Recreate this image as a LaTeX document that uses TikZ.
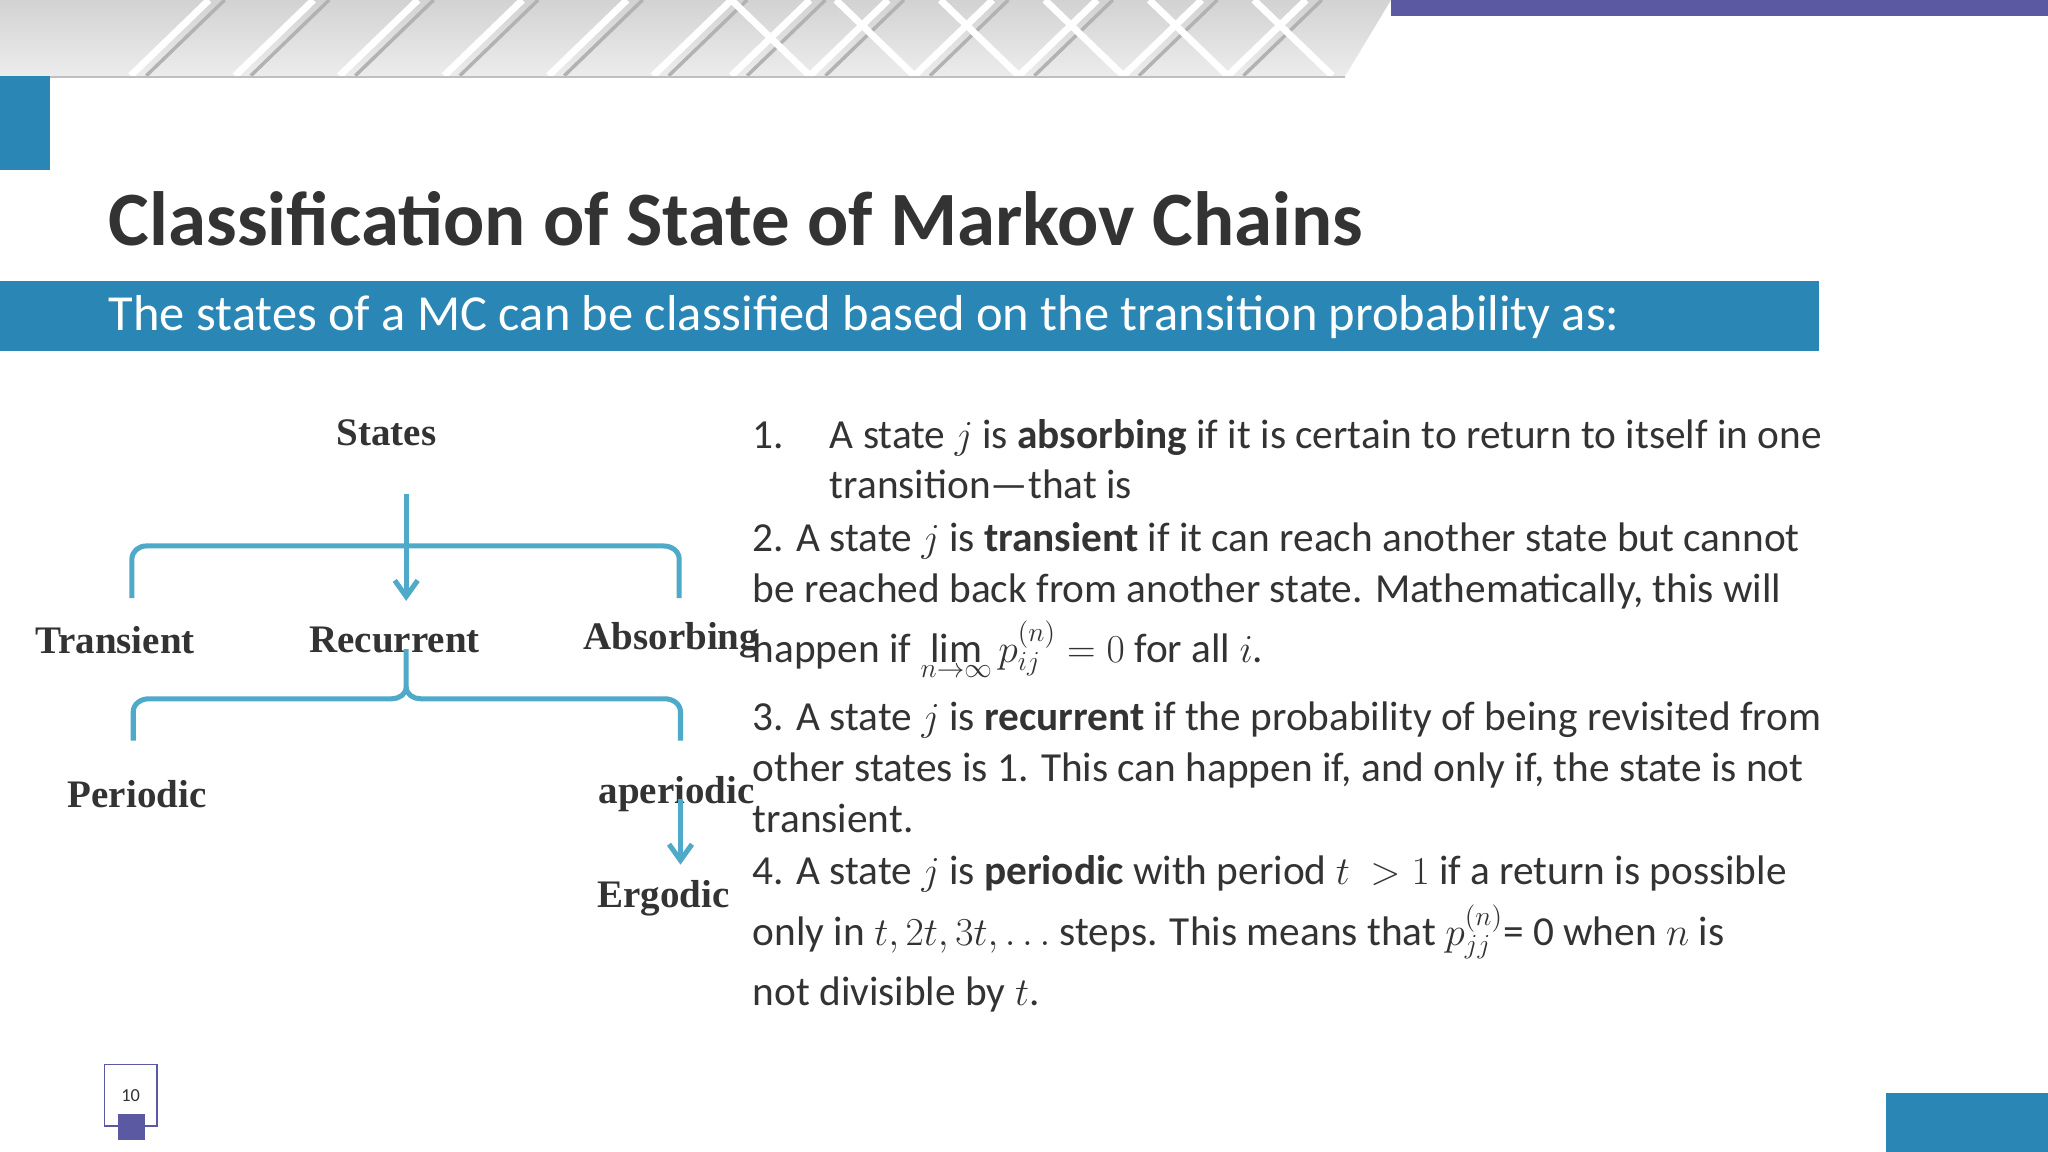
\documentclass[tikz,border=0pt]{standalone}
\usepackage{fontspec}
\setmainfont{Carlito}
\newfontfamily\tms{Liberation Serif}
\usetikzlibrary{arrows.meta}
\definecolor{mblue}{HTML}{2A86B4}
\definecolor{mpurp}{HTML}{5B59A2}
\definecolor{ltb}{HTML}{4FA9C8}
\definecolor{tgrey}{HTML}{333333}
\tikzset{
 lbl/.style={font=\tms\bfseries\fontsize{17pt}{20pt}\selectfont, text=tgrey, inner sep=0},
 ln/.style={anchor=base west, inner sep=0, font=\fontsize{18pt}{22pt}\selectfont, text=tgrey},
 br/.style={draw=ltb, line width=2.2pt},
 arr/.style={br, -{Straight Barb[length=7pt,width=10pt]}}
}
\begin{document}
\begin{tikzpicture}[x=0.02cm,y=-0.02cm]
\useasboundingbox (0,0) rectangle (1568,882);
% banner
\shade[top color=gray!35, bottom color=gray!15] (0,0) -- (1065,0) -- (1030,58) -- (0,58) -- cycle;
\begin{scope}
\clip (0,0) -- (1065,0) -- (1030,58) -- (0,58) -- cycle;
\foreach \x in {100,180,260,340,420,500,560,620,700,780,860,940}{
 \draw[white, line width=3pt] (\x,58) -- (\x+60,0);
 \draw[gray!60, line width=1.5pt] (\x+12,58) -- (\x+72,0);}
\foreach \x in {560,640,720,800,880,960}{
 \draw[white, line width=3pt] (\x,0) -- (\x+60,58);}
\end{scope}
\draw[gray!50, line width=1pt] (0,59) -- (1030,59);
\fill[mpurp] (1065,0) rectangle (1568,12);
\fill[mblue] (0,58) rectangle (38,130);
% title
\node[anchor=base west, inner sep=0, font=\bfseries\fontsize{33.5pt}{38pt}\selectfont, text=tgrey] (title) at (83,188) {Classification of State of Markov Chains};
\fill[mblue] (0,215) rectangle (1393,269);
\node[anchor=base west, inner sep=0, font=\fontsize{22pt}{26pt}\selectfont, text=white] (sub) at (83,253) {The states of a MC can be classified based on the transition probability as:};
% diagram
\node[lbl] (st) at (296,331) {States};
\node[lbl] (tr) at (88,490) {Transient};
\node[lbl] (re) at (302,490) {Recurrent};
\node[lbl] (ab) at (514,490) {Absorbing};
\node[lbl] (pe) at (105,608) {Periodic};
\node[lbl] (ap) at (518,608) {aperiodic};
\node[lbl] (er) at (508,688) {Ergodic};
\coordinate (a1) at (311,378); \coordinate (a2) at (311,460);
\draw[arr] (a1) -- (a2);
\draw[br] (101,458) -- (101,428) to[out=90,in=180] (112,418) -- (508,418) to[out=0,in=90] (520,428) -- (520,458);
\coordinate (b1) at (311,497);
\draw[br] (b1) -- (311,526) to[out=-90,in=0] (300,535) -- (114,535) to[out=180,in=90] (102,545) -- (102,567);
\draw[br] (311,526) to[out=-90,in=180] (322,535) -- (509,535) to[out=0,in=90] (521,545) -- (521,567);
\coordinate (c1) at (521,612); \coordinate (c2) at (521,662);
\draw[arr] (c1) -- (c2);
% text
\node[ln] (l1) at (576,343) {1.};
\node[ln] (l1a) at (635,343) {A state $j$ is \textbf{absorbing} if it is certain to return to itself in one};
\node[ln] (l1b) at (635,382) {transition—that is};
\node[ln] (l2) at (576,422) {2. A state $j$ is \textbf{transient} if it can reach another state but cannot};
\node[ln] (l2b) at (576,461) {be reached back from another state. Mathematically, this will};
\node[ln] (l2c) at (576,507) {happen if $\displaystyle\lim_{n\to\infty} p_{ij}^{(n)}=0$ for all $i$.};
\node[ln] (l3) at (576,559) {3. A state $j$ is \textbf{recurrent} if the probability of being revisited from};
\node[ln] (l3b) at (576,598) {other states is 1. This can happen if, and only if, the state is not};
\node[ln] (l3c) at (576,637) {transient.};
\node[ln] (l4) at (576,677) {4. A state $j$ is \textbf{periodic} with period $t\ >1$ if a return is possible};
\node[ln] (l4b) at (576,724) {only in $t, 2t, 3t, \ldots$ steps. This means that $p_{jj}^{(n)}$= 0 when $n$ is};
\node[ln] (l4c) at (576,770) {not divisible by $t$.};
% page
\draw[mpurp, line width=0.8pt, fill=white] (80,815) rectangle (120,862);
\node[font=\fontsize{8pt}{9pt}\selectfont, text=tgrey, inner sep=0] (pg) at (100,839) {10};
\fill[mpurp] (90,853) rectangle (111,873);
\fill[mblue] (1444,837) rectangle (1568,882);
\end{tikzpicture}
\end{document}
